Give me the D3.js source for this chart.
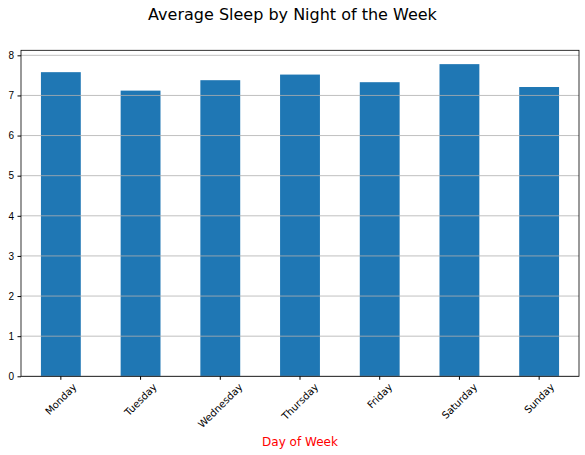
<!DOCTYPE html>
<html lang="en">
<head>
<meta charset="UTF-8">
<title>Average Sleep</title>
<script src="https://cdnjs.cloudflare.com/ajax/libs/d3/7.8.2/d3.min.js"></script>
<style>
  body { margin: 0; background: #fff; }
  svg { font-family: "DejaVu Sans", sans-serif; }
</style>
</head>
<body>
<div class="container"></div>
<script>
// data
const days = ['Monday', 'Tuesday', 'Wednesday', 'Thursday', 'Friday', 'Saturday', 'Sunday'];
const sleepHours = [7.58, 7.12, 7.38, 7.52, 7.33, 7.78, 7.21];
const yTicks = [0, 1, 2, 3, 4, 5, 6, 7, 8];

const width = 585, height = 455;
const margin = { top: 50.3, right: 6, bottom: 78.7, left: 21 };
const innerW = width - margin.left - margin.right;
const innerH = height - margin.top - margin.bottom;

const svg = d3.select('.container').append('svg')
  .attr('width', width).attr('height', height);

const x = d3.scaleBand()
  .domain(days)
  .range([margin.left, width - margin.right])
  .paddingInner(0.5)
  .paddingOuter(0.25);

const y = d3.scaleLinear()
  .domain([0, 8.125])
  .range([height - margin.bottom, margin.top]);

// title
svg.append('text')
  .attr('x', width / 2)
  .attr('y', 20)
  .attr('text-anchor', 'middle')
  .style('font-size', '16px')
  .text('Average Sleep by Night of the Week');

// bars
svg.append('g')
  .selectAll('rect')
  .data(days)
  .enter().append('rect')
  .attr('x', d => x(d))
  .attr('width', x.bandwidth())
  .attr('y', (d, i) => y(sleepHours[i]))
  .attr('height', (d, i) => y(0) - y(sleepHours[i]))
  .attr('fill', '#1f77b4');

// grid sits above the bars, as in matplotlib
svg.append('g')
  .selectAll('line')
  .data(yTicks)
  .enter().append('line')
  .attr('x1', margin.left).attr('x2', width - margin.right)
  .attr('y1', d => y(d)).attr('y2', d => y(d))
  .attr('stroke', '#b0b0b0').attr('stroke-width', 0.8);

// y axis
const yAxis = d3.axisLeft(y).tickValues(yTicks).tickSize(3.5).tickPadding(3.5);
const gy = svg.append('g')
  .attr('transform', `translate(${margin.left},0)`)
  .call(yAxis);
gy.select('.domain').remove();
gy.selectAll('text').style('font-size', '10px').attr('fill', '#000');

// x axis
const xAxis = d3.axisBottom(x).tickSize(3.5).tickFormat('');
const gx = svg.append('g')
  .attr('transform', `translate(0,${height - margin.bottom})`)
  .call(xAxis);
gx.select('.domain').remove();

// rotated tick labels, centred under the tick like matplotlib
const labels = svg.append('g')
  .selectAll('text')
  .data(days)
  .enter().append('text')
  .style('font-size', '10px')
  .attr('text-anchor', 'middle')
  .attr('dominant-baseline', 'central')
  .text(d => d);
labels.each(function (d) {
  const L = this.getComputedTextLength();
  const h = 10 * 1.1;
  const box = (L + h) * Math.SQRT1_2;
  const cx = x(d) + x.bandwidth() / 2;
  const cy = height - margin.bottom + 5 + box / 2;
  d3.select(this).attr('transform', `translate(${cx},${cy}) rotate(-45)`);
});

// frame
svg.append('rect')
  .attr('x', margin.left).attr('y', margin.top)
  .attr('width', innerW).attr('height', innerH)
  .attr('fill', 'none').attr('stroke', '#000').attr('stroke-width', 0.8);

// x label
svg.append('text')
  .attr('x', margin.left + innerW / 2)
  .attr('y', 446)
  .attr('text-anchor', 'middle')
  .style('font-size', '12px')
  .attr('fill', 'red')
  .text('Day of Week');
</script>
</body>
</html>
